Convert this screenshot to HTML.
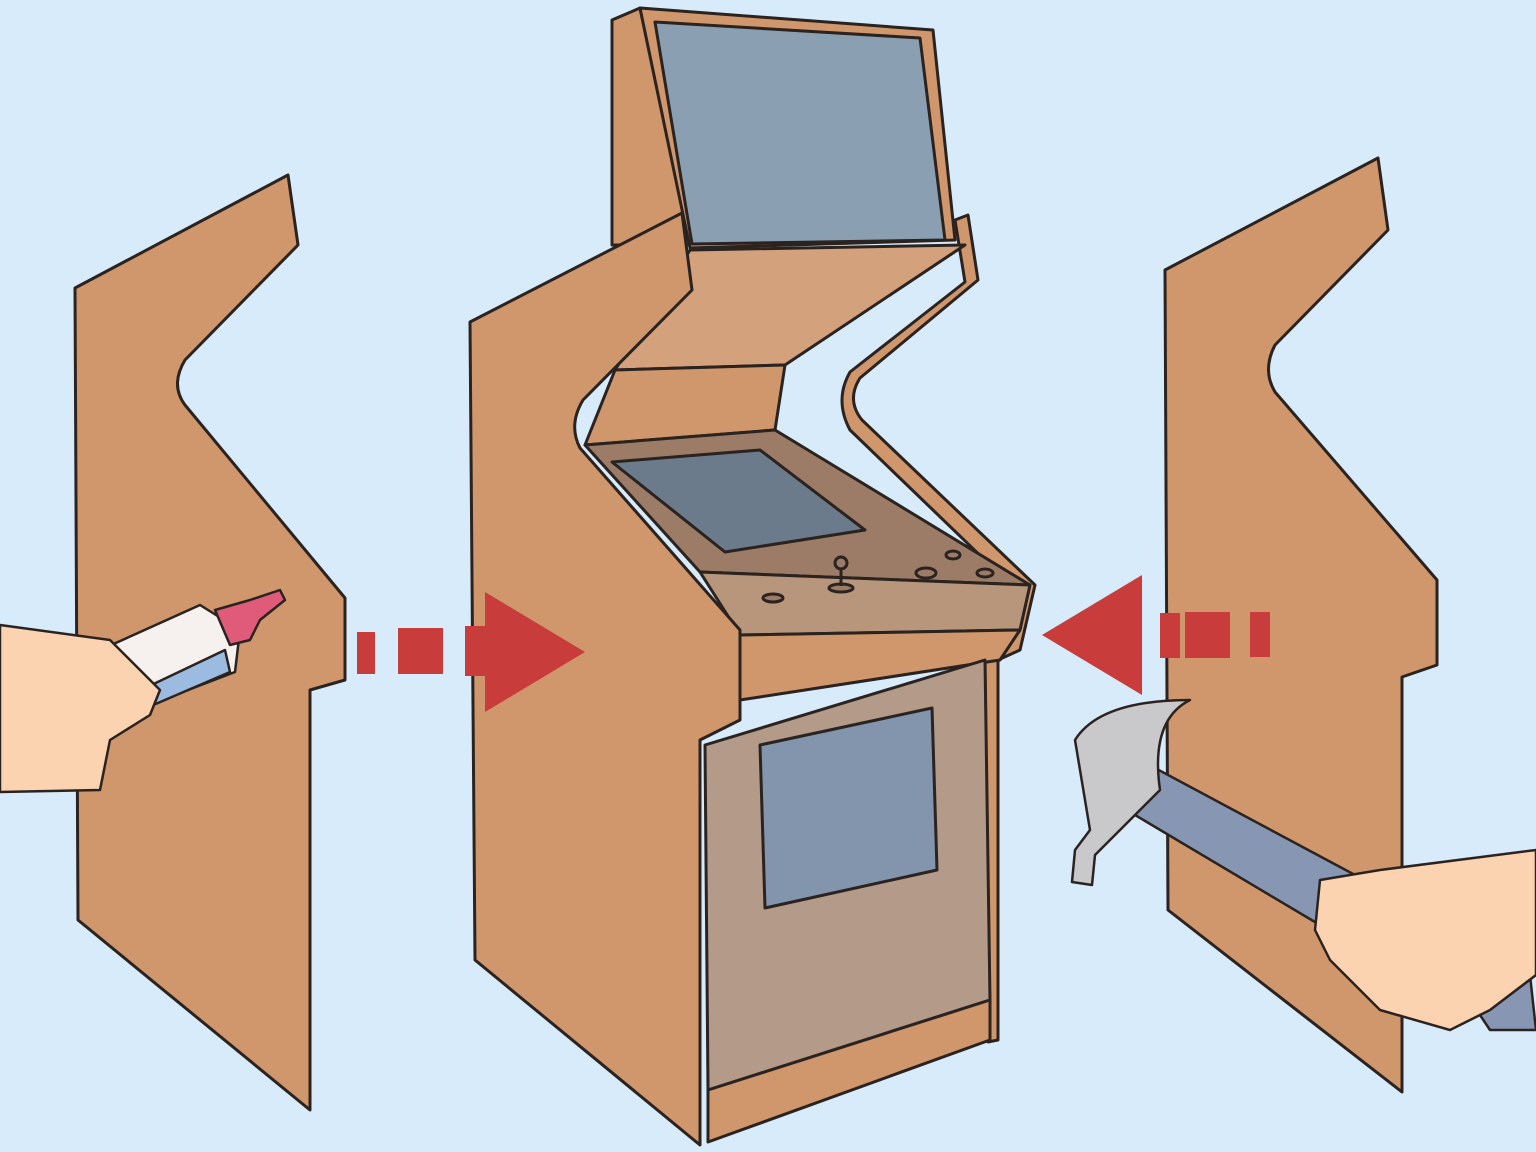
<!DOCTYPE html>
<html><head><meta charset="utf-8"><style>html,body{margin:0;padding:0;background:#d8ebfb}svg{display:block}</style></head>
<body>
<svg width="1536" height="1152" viewBox="0 0 1536 1152" xmlns="http://www.w3.org/2000/svg">
<rect width="1536" height="1152" fill="#d8ebfb"/>
<g stroke="#2a2320" stroke-width="3" stroke-linejoin="round">
<!-- left panel -->
<path d="M75,288 L288,175 L298,245 L185,360 Q170,385 185,405 L345,598 L345,680 L310,690 L310,1110 L78,920 Z" fill="#d0976d"/>
<!-- right panel -->
<path d="M1165,270 L1378,158 L1388,230 L1275,345 Q1262,370 1275,392 L1437,580 L1437,665 L1402,677 L1402,1092 L1168,910 Z" fill="#d0976d"/>
<!-- right edge panel (thin) -->
<path d="M955,220 L968,215 L978,280 L860,378 Q846,400 862,420 L1035,585 L1020,650 L998,660 L998,1040 L988,1042 L985,662 L1018,592 L850,430 Q834,400 850,372 L965,282 Z" fill="#d0976d"/>
<!-- cabinet top back -->
<path d="M612,20 L640,8 L690,245 L612,245 Z" fill="#d0976d"/>
<path d="M640,8 L933,30 L955,240 L690,248 Z" fill="#d0976d"/>
<path d="M655,22 L920,38 L945,240 L692,244 Z" fill="#8aa0b2"/>
<!-- bezel -->
<path d="M690,250 L965,245 L785,365 L615,370 Z" fill="#d3a17c"/>
<path d="M615,370 L785,365 L775,430 L585,445 Z" fill="#d0976d"/>
<!-- control panel -->
<path d="M585,445 L775,430 L1030,585 L700,572 Z" fill="#9c7c66"/>
<path d="M612,462 L760,450 L865,530 L725,552 Z" fill="#6c7b8b"/>
<path d="M700,572 L1030,585 L1020,630 L740,635 Z" fill="#b8967c"/>
<path d="M740,635 L1020,630 L1000,660 L740,700 Z" fill="#d0976d"/>
<!-- lower front -->
<path d="M705,745 L985,660 L990,1000 L708,1090 Z" fill="#b39a89"/>
<path d="M760,745 L932,708 L937,870 L765,908 Z" fill="#8395ad"/>
<path d="M708,1090 L990,1000 L990,1040 L708,1142 Z" fill="#d0976d"/>
<!-- left cabinet side -->
<path d="M470,322 L682,213 L692,290 L583,400 Q568,425 580,448 L740,630 L740,720 L700,740 L700,1145 L475,960 Z" fill="#d0976d"/>
<!-- buttons -->
<ellipse cx="773" cy="598" rx="10" ry="4" fill="#9c7c66"/>
<ellipse cx="841" cy="588" rx="12" ry="4" fill="#9c7c66"/>
<line x1="841" y1="586" x2="841" y2="566" stroke-width="3"/>
<circle cx="841" cy="563" r="6" fill="#9c7c66"/>
<ellipse cx="926" cy="573" rx="10" ry="5" fill="#9c7c66"/>
<ellipse cx="953" cy="555" rx="7" ry="4" fill="#9c7c66"/>
<ellipse cx="985" cy="573" rx="8" ry="4" fill="#9c7c66"/>
</g>
<!-- arrows -->
<g fill="#c93c3c">
<rect x="357" y="632" width="18" height="42"/><rect x="398" y="628" width="45" height="46"/><rect x="465" y="626" width="25" height="50"/>
<path d="M485,592 L585,652 L485,712 Z"/>
<path d="M1142,575 L1042,635 L1142,695 Z"/>
<rect x="1160" y="613" width="20" height="45"/><rect x="1185" y="612" width="45" height="46"/><rect x="1250" y="612" width="20" height="45"/>
</g>
<!-- glue + hand -->
<g stroke="#2a2320" stroke-width="2.5" stroke-linejoin="round">
<path d="M78,660 L200,605 L240,630 L235,672 L110,720 Z" fill="#f6f1ef"/>
<path d="M120,700 L225,650 L230,672 L130,715 Z" fill="#9bbce0"/>
<path d="M215,610 L250,600 L280,590 L285,600 L260,620 L250,640 L230,645 Z" fill="#e05a7a"/>
<path d="M0,625 L110,640 L160,690 L150,715 L110,740 L100,790 L0,792 Z" fill="#fcd3b0"/>
<!-- hammer -->
<path d="M1140,760 L1135,815 L1320,925 L1355,875 Z" fill="#8797b3"/>
<path d="M1470,1000 L1530,975 L1536,1030 L1490,1030 Z" fill="#8797b3"/>
<path d="M1075,740 Q1100,700 1190,700 Q1150,720 1160,790 L1130,820 L1095,855 L1092,885 L1072,882 L1075,850 L1090,830 Z" fill="#c9c9cc"/>
<path d="M1320,880 L1380,870 L1536,850 L1536,975 L1490,1010 L1450,1030 L1380,1010 L1330,960 L1315,930 Z" fill="#fcd3b0"/>
</g>
</svg>
</body></html>
